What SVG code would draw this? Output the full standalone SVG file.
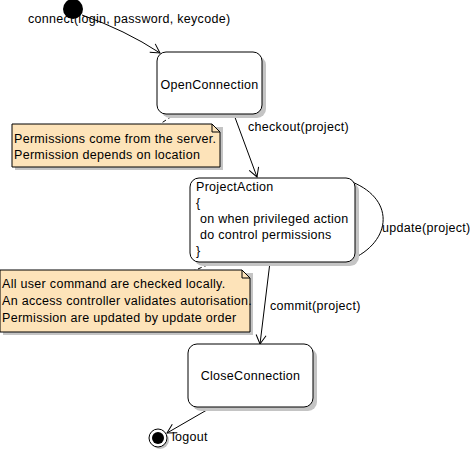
<svg xmlns="http://www.w3.org/2000/svg" width="474" height="453" viewBox="0 0 474 453">
<style>
text{font-family:"Liberation Sans",Arial,sans-serif;font-size:12.5px;letter-spacing:0.3px;fill:#000}
.state{fill:#fff;stroke:#000;stroke-width:1}
.shadow{fill:#c4c4c4;stroke:none}
.note{fill:#fde3b9;stroke:#000;stroke-width:1}
.edge{fill:none;stroke:#000;stroke-width:1}
.dash{fill:none;stroke:#000;stroke-width:1;stroke-dasharray:4,3}
</style>
<defs>
<marker id="open" markerWidth="12" markerHeight="12" refX="10" refY="6" orient="auto" markerUnits="userSpaceOnUse">
<path d="M1,1 L10,6 L1,11" fill="none" stroke="#000" stroke-width="1"/>
</marker>
</defs>
<rect width="474" height="453" fill="#fff"/>

<g id="connectors">
<path class="edge" d="M82,15 Q125,30 160,53" marker-end="url(#open)"/>
<text x="28" y="23">connect(login, password, keycode)</text>
<path class="edge" d="M233,112 L257,177" marker-end="url(#open)"/>
<text x="248" y="131">checkout(project)</text>
<path class="edge" d="M352,182 C397,200 392,245 345,262" marker-end="url(#open)"/>
<text x="382" y="232">update(project)</text>
<path class="edge" d="M270,262 L260,344" marker-end="url(#open)"/>
<text x="270" y="310">commit(project)</text>
<path class="edge" d="M212,407 L167,433" marker-end="url(#open)"/>
<text x="172" y="441">logout</text>
<path class="dash" d="M201,97 L160,124"/>
<path class="dash" d="M234,254 L193,271"/>
</g>

<g id="start">
<circle cx="73" cy="9" r="10" fill="#000"/>
</g>

<g id="OpenConnection">
<rect class="shadow" x="161" y="56" width="105" height="62" rx="9"/>
<rect class="state" x="157" y="52" width="105" height="62" rx="9"/>
<text x="209.5" y="89" text-anchor="middle">OpenConnection</text>
</g>

<g id="note1">
<rect class="shadow" x="15" y="127" width="208" height="43"/>
<path class="note" d="M12,124 L212,124 L220,132 L220,167 L12,167 Z"/>
<path class="edge" d="M212,124 L212,132 L220,132"/>
<text x="14" y="143">Permissions come from the server.</text>
<text x="14" y="159">Permission depends on location</text>
</g>

<g id="ProjectAction">
<rect class="shadow" x="194" y="182" width="165" height="84" rx="9"/>
<rect class="state" x="190" y="178" width="165" height="84" rx="9"/>
<text x="196" y="191">ProjectAction</text>
<text x="196" y="207">{</text>
<text x="200" y="223">on when privileged action</text>
<text x="200" y="239">do control permissions</text>
<text x="196" y="255">}</text>
</g>

<g id="note2">
<rect class="shadow" x="3" y="273" width="250" height="62"/>
<path class="note" d="M0,270 L242,270 L250,278 L250,332 L0,332 Z"/>
<path class="edge" d="M242,270 L242,278 L250,278"/>
<text x="2" y="288">All user command are checked locally.</text>
<text x="2" y="305">An access controller validates autorisation.</text>
<text x="2" y="322">Permission are updated by update order</text>
</g>

<g id="CloseConnection">
<rect class="shadow" x="192" y="348" width="125" height="63" rx="9"/>
<rect class="state" x="188" y="344" width="125" height="63" rx="9"/>
<text x="250.5" y="380" text-anchor="middle">CloseConnection</text>
</g>

<g id="final">
<circle cx="160" cy="440" r="9" fill="#c4c4c4"/>
<circle cx="158" cy="438" r="9" fill="#fff" stroke="#000"/>
<circle cx="158" cy="438" r="6" fill="#000"/>
</g>
</svg>
